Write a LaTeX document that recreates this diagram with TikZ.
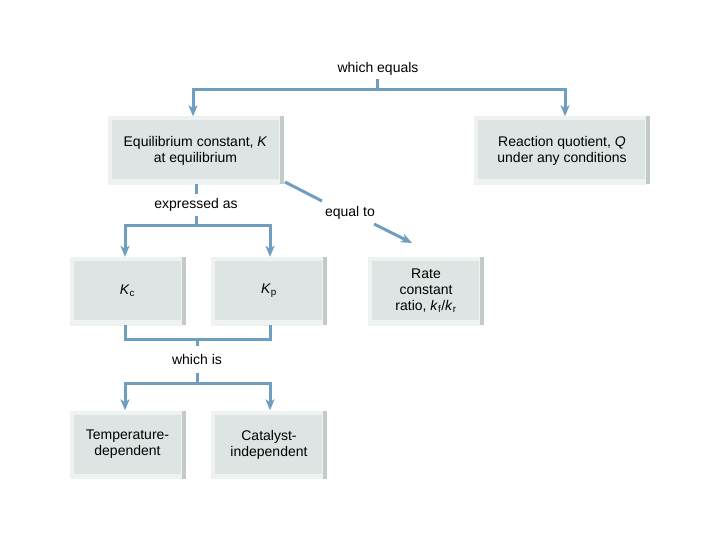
\documentclass[tikz,border=0pt]{standalone}
\usepackage{fontspec}
\setmainfont{Liberation Sans}
\usetikzlibrary{calc,arrows.meta}
\definecolor{ln}{HTML}{6F9EC0}
\definecolor{edge}{HTML}{C2CACA}
\definecolor{face}{HTML}{DEE4E3}
\definecolor{hi}{HTML}{EEF2F1}
\begin{document}
\begin{tikzpicture}[x=1pt,y=-1pt,
 box/.style={minimum width=116pt,minimum height=68pt,inner sep=0pt,align=center,fill=edge,
  font=\fontsize{14}{16}\selectfont,
  path picture={
   \fill[hi] (path picture bounding box.north west) rectangle ($(path picture bounding box.south east)+(-4pt,-4pt)$);
   \fill[face] ($(path picture bounding box.north west)+(4pt,-4pt)$) rectangle ($(path picture bounding box.south east)+(-5pt,5pt)$);}},
 lbl/.style={font=\fontsize{14}{16}\selectfont,inner sep=1pt},
 con/.style={draw=ln,line width=3pt},
 arr/.style={con,-{Stealth[length=11pt,width=9pt,inset=3pt]}}]
\useasboundingbox (0,0) rectangle (720,540);
\node[box,minimum width=176pt] (eq) at (195.5,150.5) {Equilibrium constant, \textit{K}\\at equilibrium};
\node[box,minimum width=176pt] (q) at (562,150.5) {Reaction quotient, \textit{Q}\\under any conditions};
\node[box] (kc) at (127.5,291) {\textit{K}\textsubscript{c}};
\node[box] (kp) at (269,291) {\textit{K}\textsubscript{p}};
\node[box] (rate) at (426,291) {Rate\\constant\\ratio, \textit{k}\textsubscript{f}/\textit{k}\textsubscript{r}};
\node[box] (temp) at (127.5,444.5) {Temperature-\\dependent};
\node[box] (cat) at (269,444.5) {Catalyst-\\independent};
\node[lbl] (we) at (378,69) {which equals};
\node[lbl] (ex) at (196,205) {expressed as};
\node[lbl] (et) at (350,213) {equal to};
\node[lbl] (wi) at (197,359) {which is};
% which equals
\coordinate (t1) at (377,79); \coordinate (t2) at (377,90);
\coordinate (tl) at (193,90); \coordinate (tr) at (565,90);
\draw[con] (t1) -- (t2);
\draw[arr] (t2) -- (tl) -- (tl|-eq.north);
\draw[arr] (t2) -- (tr) -- (tr|-q.north);
% expressed as
\coordinate (e1) at (196,184); \coordinate (e2) at (196,194);
\draw[con] (e1) -- (e2);
\coordinate (e3) at (196,216); \coordinate (e4) at (196,226);
\coordinate (el) at (125,226); \coordinate (er) at (270,226);
\draw[con] (e3) -- (e4);
\draw[arr] (e4) -- (el) -- (el|-kc.north);
\draw[arr] (e4) -- (er) -- (er|-kp.north);
% equal to
\coordinate (q1) at (285,182); \coordinate (q2) at (322,201);
\coordinate (q3) at (374,224); \coordinate (q4) at (412,243);
\draw[con] (q1) -- (q2);
\draw[arr] (q3) -- (q4);
% which is
\coordinate (w1) at (125,339); \coordinate (w2) at (270,339); \coordinate (wm) at (197,339);
\draw[con] (w1|-kc.south) -- (w1) -- (w2) -- (w2|-kp.south);
\draw[con] (wm) -- (197,346);
\coordinate (w3) at (197,373); \coordinate (w4) at (197,383);
\coordinate (wl) at (125,383); \coordinate (wr) at (270,383);
\draw[con] (w3) -- (w4);
\draw[arr] (w4) -- (wl) -- (wl|-temp.north);
\draw[arr] (w4) -- (wr) -- (wr|-cat.north);
\end{tikzpicture}
\end{document}
